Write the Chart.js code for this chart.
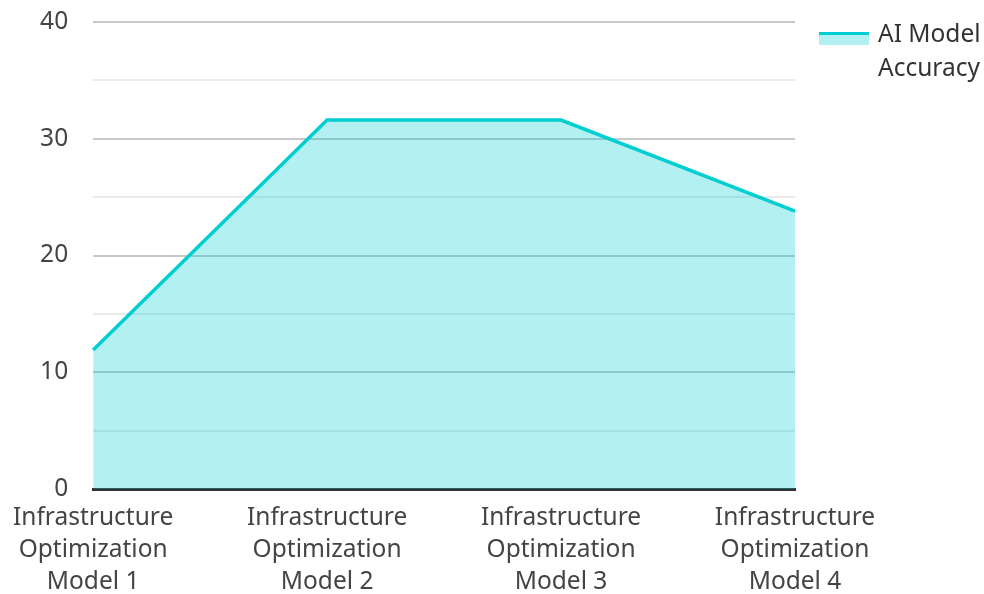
<!DOCTYPE html>
<html>
<head>
<meta charset="utf-8">
<script src="https://cdn.jsdelivr.net/npm/chart.js@4/dist/chart.umd.min.js"></script>
<style>
  html, body { margin: 0; padding: 0; background: #fff; }
  #wrap { position: relative; width: 984px; height: 594px; }
  #legend {
    position: absolute; left: 819px; top: 16px;
    font-family: "Noto Sans", "Open Sans", sans-serif; font-size: 24.5px;
    line-height: 34px; color: #333;
  }
  #legend .sw {
    position: absolute; left: 0; top: 16px; width: 50px; height: 10px;
    background: rgba(0, 206, 209, 0.3); border-top: 3px solid #00CED1;
  }
  #legend .txt { margin-left: 59px; }
</style>
</head>
<body>
<div id="wrap">
  <canvas id="grafico" width="984" height="594"></canvas>
  <div id="legend"><span class="sw"></span><div class="txt">AI Model<br>Accuracy</div></div>
</div>
<script>
// dados
const categorias = [
  ['Infrastructure', 'Optimization', 'Model 1'],
  ['Infrastructure', 'Optimization', 'Model 2'],
  ['Infrastructure', 'Optimization', 'Model 3'],
  ['Infrastructure', 'Optimization', 'Model 4']
];
const precisao = [11.9, 31.6, 31.6, 23.8];
const rotuloSerie = 'AI Model Accuracy';

const fonte = { family: '"Noto Sans", "Open Sans", sans-serif', size: 24.5 };

new Chart(document.getElementById('grafico').getContext('2d'), {
    type: 'line',
    data: {
        labels: categorias,
        datasets: [{
            label: rotuloSerie,
            data: precisao,
            borderColor: '#00CED1',
            backgroundColor: 'rgba(0, 206, 209, 0.3)',
            borderWidth: 3.5,
            pointRadius: 0,
            tension: 0,
            fill: 'origin'
        }]
    },
    options: {
        responsive: false,
        animation: false,
        layout: { padding: { top: 22, right: 189, left: 0, bottom: 0 } },
        plugins: {
            legend: { display: false },
            tooltip: { enabled: false }
        },
        scales: {
            x: {
                offset: false,
                afterFit: (s) => { s.height = 105; },
                grid: { display: false, drawTicks: false },
                border: { display: true, color: '#333', width: 3 },
                ticks: {
                    color: '#444',
                    font: { ...fonte, lineHeight: 1.3 },
                    padding: 13,
                    maxRotation: 0,
                    autoSkip: false
                }
            },
            y: {
                min: 0,
                max: 40,
                afterFit: (s) => { s.width = 92; s.paddingTop = 0; s.paddingBottom = 0; },
                border: { display: false },
                grid: {
                    drawTicks: false,
                    lineWidth: 2,
                    color: (c) => (c.tick && c.tick.value % 10 === 0) ? '#c8c8c8' : '#eaeaea'
                },
                ticks: {
                    stepSize: 5,
                    color: '#444',
                    font: fonte,
                    padding: 25,
                    callback: (v) => (v % 10 === 0 ? v : '')
                }
            }
        }
    }
});
</script>
</body>
</html>
